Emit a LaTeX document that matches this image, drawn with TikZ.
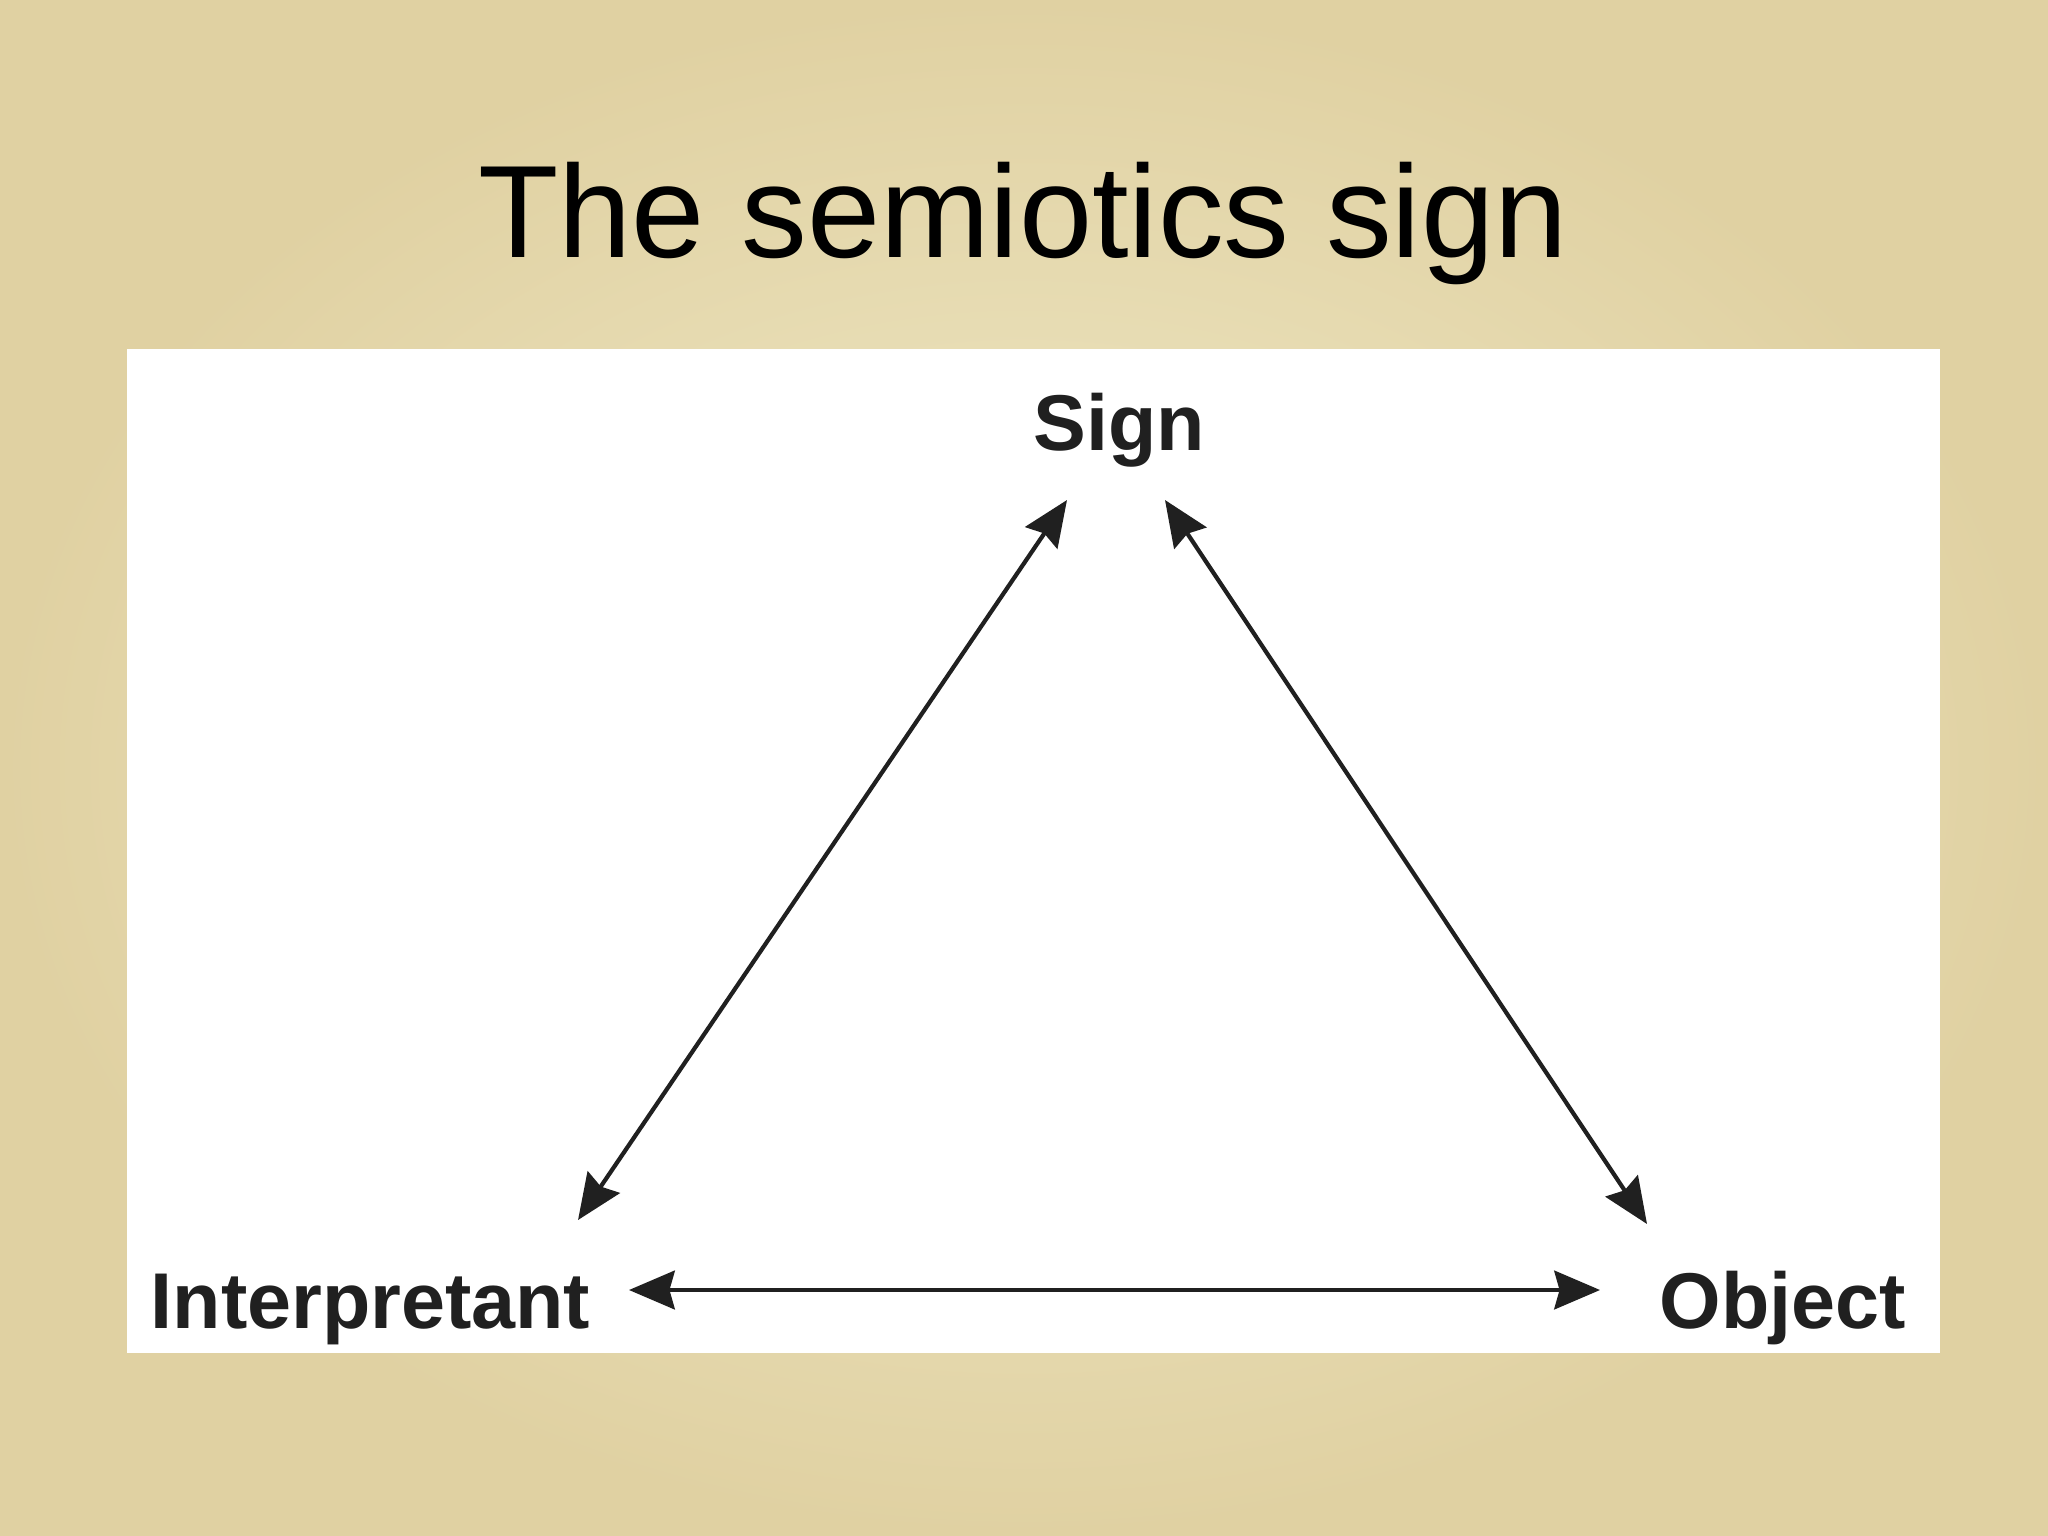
\documentclass[tikz,border=0pt]{standalone}
\usepackage{fontspec}
\setmainfont{Liberation Sans}
\usepackage{tikz}
\usetikzlibrary{arrows.meta, calc}
\usepackage{xcolor}
\definecolor{parchlight}{RGB}{241,235,202}
\definecolor{parchdark}{RGB}{224,209,162}
\definecolor{inkgray}{RGB}{32,32,32}

\begin{document}
\begin{tikzpicture}[
x=0.01cm, y=-0.01cm,
title/.style={anchor=base, inner sep=0pt,
font=\fontsize{37.4}{44}\selectfont},
term/.style={inner sep=0pt, text=inkgray,
font=\bfseries\fontsize{22.5}{27}\selectfont},
twoway/.style={{Stealth[length=13pt, width=11pt, inset=1.5pt]}-{Stealth[length=13pt, width=11pt, inset=1.5pt]},
line width=1.2pt, inkgray}
]

% background
\shade[inner color=parchlight, outer color=parchdark] (0,0) rectangle (2048,1536);
\useasboundingbox (0,0) rectangle (2048,1536);
\fill[white] (127,349) rectangle (1940,1353);

\node[title] (head) at (1023,257) {The semiotics sign};

\node[term, anchor=base] (sign) at (1119,450) {Sign};
\node[term, anchor=base west] (interp) at (150,1328) {Interpretant};
\node[term, anchor=base west] (obj) at (1659,1328) {Object};

\draw[twoway] ($(interp.base east)+(-13,-108)$) -- ($(sign.base)+(-52,50)$);
\draw[twoway] ($(sign.base)+(46,50)$) -- ($(obj.base west)+(-12,-104)$);
\draw[twoway] ($(interp.base east)+(38,-38)$) -- ($(obj.base west)+(-59,-38)$);

\end{tikzpicture}
\end{document}
